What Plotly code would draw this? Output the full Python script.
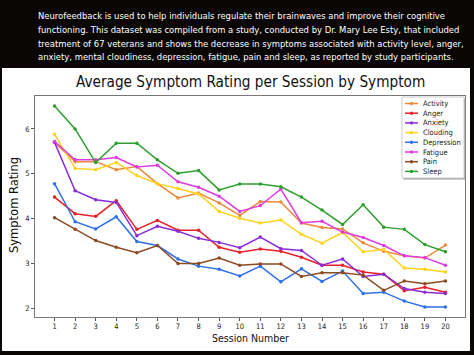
import plotly.graph_objects as go

sessions = list(range(1, 21))
symptoms = ["Activity", "Anger", "Anxiety", "Clouding", "Depression", "Fatigue", "Pain", "Sleep"]

activity = [5.70, 5.27, 5.27, 5.09, 5.16, 4.78, 4.46, 4.57, 4.35, 4.07, 4.38, 4.37, 3.90, 3.80, 3.77, 3.46, 3.27, 3.17, 3.12, 3.41]
anger = [4.48, 4.11, 4.05, 4.40, 3.76, 3.96, 3.74, 3.74, 3.36, 3.25, 3.32, 3.27, 3.14, 2.96, 2.96, 2.81, 2.76, 2.39, 2.47, 2.36]
anxiety = [5.70, 4.62, 4.42, 4.36, 3.62, 3.83, 3.72, 3.56, 3.47, 3.35, 3.59, 3.33, 3.29, 2.96, 3.10, 2.71, 2.76, 2.44, 2.36, 2.33]
clouding = [5.88, 5.12, 5.09, 5.25, 4.96, 4.78, 4.67, 4.55, 4.16, 4.01, 3.90, 3.97, 3.65, 3.45, 3.69, 3.26, 3.31, 2.90, 2.87, 2.81]
depression = [4.78, 3.93, 3.77, 4.04, 3.49, 3.40, 3.10, 2.94, 2.87, 2.72, 2.94, 2.59, 2.88, 2.60, 2.83, 2.33, 2.36, 2.16, 2.03, 2.03]
fatigue = [5.72, 5.31, 5.31, 5.36, 5.15, 5.19, 4.82, 4.70, 4.50, 4.16, 4.29, 4.66, 3.91, 3.94, 3.70, 3.58, 3.40, 3.17, 3.13, 2.96]
pain = [4.02, 3.76, 3.51, 3.36, 3.24, 3.40, 3.00, 3.00, 3.12, 2.96, 2.99, 2.99, 2.71, 2.79, 2.79, 2.74, 2.40, 2.61, 2.55, 2.61]
sleep = [6.51, 6.00, 5.25, 5.68, 5.68, 5.31, 5.01, 5.07, 4.64, 4.77, 4.77, 4.71, 4.48, 4.19, 3.87, 4.31, 3.81, 3.76, 3.42, 3.26]

series = [activity, anger, anxiety, clouding, depression, fatigue, pain, sleep]
colors = ["#ec8a3c", "#e8202a", "#8a2bd8", "#ffd21a", "#2f6fe8", "#e03ae0", "#8b4a22", "#2ca02c"]

y_ticks = [2, 3, 4, 5, 6]

header_lines = [
    "Neurofeedback is used to help individuals regulate their brainwaves and improve their cognitive",
    "functioning. This dataset was compiled from a study, conducted by Dr. Mary Lee Esty, that included",
    "treatment of 67 veterans and shows the decrease in symptoms associated with activity level, anger,",
    "anxiety, mental cloudiness, depression, fatigue, pain and sleep, as reported by study participants.",
]
title_text = "Average Symptom Rating per Session by Symptom"
x_title = "Session Number"
y_title = "Symptom Rating"

# --- layout geometry (pixels) ---
WIDTH, HEIGHT = 474, 355
L, R, T, B = 35, 9, 96, 38
PW = WIDTH - L - R
PH = HEIGHT - T - B


def px(x):
    return (x - L) / PW


def py(y):
    return (HEIGHT - B - y) / PH


CHART_FONT = "DejaVu Sans Condensed, DejaVu Sans, sans-serif"

fig = go.Figure()
for name, vals, col in zip(symptoms, series, colors):
    fig.add_trace(go.Scatter(
        x=sessions, y=vals, mode="lines+markers", name=name,
        line=dict(color=col, width=1.5),
        marker=dict(color=col, size=3.5),
        showlegend=False,
    ))

all_vals = [v for s in series for v in s]
ymin, ymax = min(all_vals), max(all_vals)
ypad = (ymax - ymin) * 0.05
xpad = (max(sessions) - min(sessions)) * 0.05

shapes = []
annotations = []

# white panel behind chart
shapes.append(dict(type="rect", xref="paper", yref="paper", layer="below",
                   x0=px(2), x1=px(470), y0=py(351), y1=py(68),
                   fillcolor="white", line=dict(width=0)))

# header text
for i, line in enumerate(header_lines):
    annotations.append(dict(text=line, xref="paper", yref="paper",
                            x=px(36), y=py(16 + i * 13.6), xanchor="left", yanchor="middle",
                            showarrow=False,
                            font=dict(family=CHART_FONT, size=9.4, color="white")))

# title
annotations.append(dict(text=title_text, xref="paper", yref="paper",
                        x=px(250), y=py(82), xanchor="center", yanchor="middle",
                        showarrow=False, font=dict(family=CHART_FONT, size=15.2, color="#111")))

# axis titles
annotations.append(dict(text=x_title, xref="paper", yref="paper",
                        x=px(250), y=py(338), xanchor="center", yanchor="middle",
                        showarrow=False, font=dict(family=CHART_FONT, size=10.5, color="#111")))
annotations.append(dict(text=y_title, xref="paper", yref="paper",
                        x=px(14), y=py(205), xanchor="center", yanchor="middle", textangle=-90,
                        showarrow=False, font=dict(family="DejaVu Sans", size=11.5, color="#111")))

# legend box (custom, matplotlib-like compact)
lx0, lx1, ly0, ly1 = 402, 464, 97, 178
shapes.append(dict(type="rect", xref="paper", yref="paper",
                   x0=px(lx0 + 1.5), x1=px(lx1 + 1.5), y0=py(ly1 + 1.5), y1=py(ly0 + 1.5),
                   fillcolor="#9a9a9a", line=dict(width=0)))
shapes.append(dict(type="rect", xref="paper", yref="paper",
                   x0=px(lx0), x1=px(lx1), y0=py(ly1), y1=py(ly0),
                   fillcolor="white", line=dict(color="#cccccc", width=1)))
for i, (name, col) in enumerate(zip(symptoms, colors)):
    yy = 103.5 + i * 9.7
    shapes.append(dict(type="line", xref="paper", yref="paper",
                       x0=px(405), x1=px(418), y0=py(yy), y1=py(yy),
                       line=dict(color=col, width=1.5)))
    shapes.append(dict(type="circle", xref="paper", yref="paper",
                       x0=px(409.8), x1=px(413.2), y0=py(yy + 1.7), y1=py(yy - 1.7),
                       fillcolor=col, line=dict(width=0)))
    annotations.append(dict(text=name, xref="paper", yref="paper",
                            x=px(421), y=py(yy), xanchor="left", yanchor="middle",
                            showarrow=False, font=dict(family=CHART_FONT, size=7.5, color="#222")))

fig.update_layout(
    width=WIDTH, height=HEIGHT,
    margin=dict(l=L, r=R, t=T, b=B, pad=0, autoexpand=False),
    paper_bgcolor="#0a0606", plot_bgcolor="white",
    font=dict(family=CHART_FONT, color="#222"),
    shapes=shapes, annotations=annotations,
    showlegend=False,
)
fig.update_xaxes(
    range=[min(sessions) - xpad, max(sessions) + xpad],
    tickmode="array", tickvals=sessions, ticktext=[str(s) for s in sessions],
    ticks="outside", ticklen=3, tickcolor="#555", tickfont=dict(size=7.5, color="#222"),
    ticklabelstandoff=-1,
    showgrid=False, zeroline=False, showline=True, linecolor="#777", linewidth=1, mirror=True,
    automargin=False,
)
fig.update_yaxes(
    range=[ymin - ypad, ymax + ypad],
    tickmode="array", tickvals=y_ticks, ticktext=[str(t) for t in y_ticks],
    ticks="outside", ticklen=3, tickcolor="#555", tickfont=dict(size=7.5, color="#222"),
    showgrid=False, zeroline=False, showline=True, linecolor="#777", linewidth=1, mirror=True,
    automargin=False,
)

fig.write_html(
    "out.html",
    config={"displayModeBar": False},
    post_script="document.body.style.margin='0';document.body.style.background='#0a0606';",
)
